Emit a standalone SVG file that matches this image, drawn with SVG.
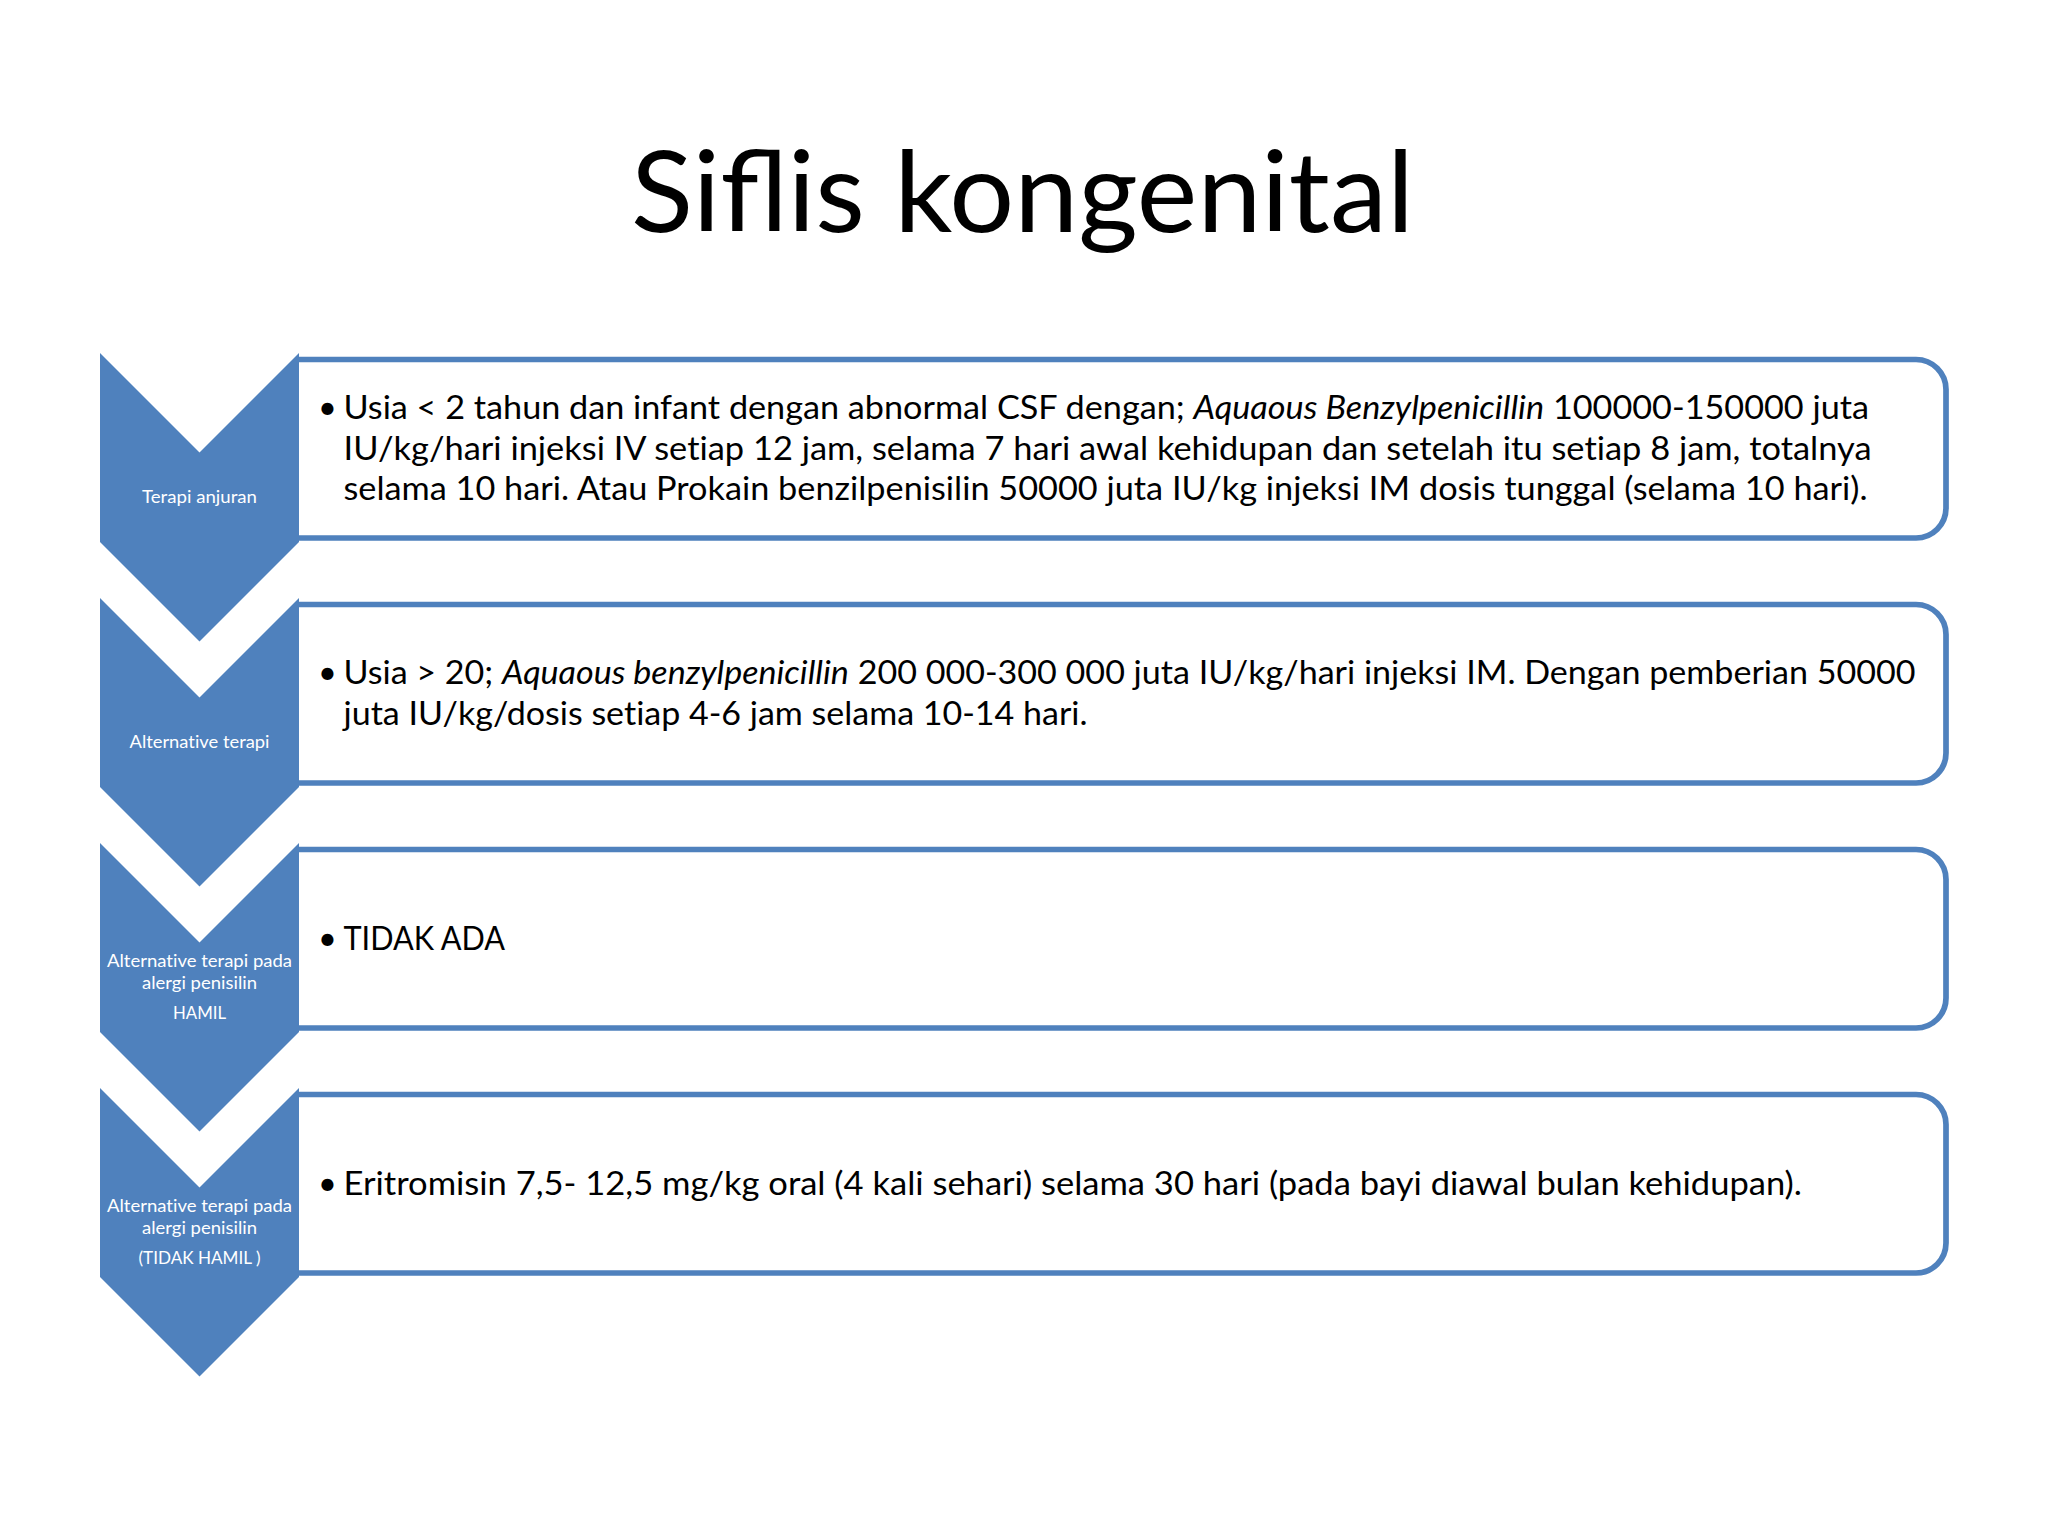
<svg xmlns="http://www.w3.org/2000/svg" width="2048" height="1536" viewBox="0 0 2048 1536">
<defs>
<style>
.chev{fill:#4F81BD;}
.box{fill:#FFFFFF;stroke:#4F81BD;stroke-width:5.7;}
.ct{font-family:Lato,"Open Sans","Liberation Sans",sans-serif;font-size:17.5px;fill:#FFFFFF;text-anchor:middle;font-variant-ligatures:none;}
.bt{font-family:Lato,"Open Sans","Liberation Sans",sans-serif;font-size:32.5px;fill:#000000;font-variant-ligatures:none;}
.it{font-style:italic;}
.title{font-family:Lato,"Open Sans","Liberation Sans",sans-serif;font-size:112px;fill:#000000;text-anchor:middle;}
</style>
</defs>
<rect x="0" y="0" width="2048" height="1536" fill="#FFFFFF"/>
<text class="title" x="1022.5" y="232" textLength="783" lengthAdjust="spacingAndGlyphs">Siflis kongenital</text>

<g id="row1">
<path class="box" d="M299,359.5 H1916 A30,30 0 0 1 1946,389.5 V508 A30,30 0 0 1 1916,538 H299"/>
<polygon class="chev" points="100,353 199.5,452.5 299,353 299,542 199.5,641.5 100,542"/>
<text class="ct" x="199.5" y="503" textLength="115" lengthAdjust="spacingAndGlyphs">Terapi anjuran</text>
<text class="bt" x="318" y="419">•</text>
<text class="bt" x="343.5" y="419" textLength="1525.5" lengthAdjust="spacingAndGlyphs">Usia &lt; 2 tahun dan infant dengan abnormal CSF dengan; <tspan class="it">Aquaous Benzylpenicillin</tspan> 100000-150000 juta</text>
<text class="bt" x="343.5" y="459.5" textLength="1528" lengthAdjust="spacingAndGlyphs">IU/kg/hari injeksi IV setiap 12 jam, selama 7 hari awal kehidupan dan setelah itu setiap 8 jam, totalnya</text>
<text class="bt" x="343.5" y="500" textLength="1524" lengthAdjust="spacingAndGlyphs">selama 10 hari. Atau Prokain benzilpenisilin 50000 juta IU/kg injeksi IM dosis tunggal (selama 10 hari).</text>
</g>

<g id="row2">
<path class="box" d="M299,604.5 H1916 A30,30 0 0 1 1946,634.5 V753 A30,30 0 0 1 1916,783 H299"/>
<polygon class="chev" points="100,598 199.5,697.5 299,598 299,787 199.5,886.5 100,787"/>
<text class="ct" x="199.5" y="748" textLength="140" lengthAdjust="spacingAndGlyphs">Alternative terapi</text>
<text class="bt" x="318" y="684">•</text>
<text class="bt" x="343.5" y="684" textLength="1572" lengthAdjust="spacingAndGlyphs">Usia &gt; 20; <tspan class="it">Aquaous benzylpenicillin</tspan> 200 000-300 000 juta IU/kg/hari injeksi IM. Dengan pemberian 50000</text>
<text class="bt" x="343.5" y="724.5" textLength="744" lengthAdjust="spacingAndGlyphs">juta IU/kg/dosis setiap 4-6 jam selama 10-14 hari.</text>
</g>

<g id="row3">
<path class="box" d="M299,849.5 H1916 A30,30 0 0 1 1946,879.5 V998 A30,30 0 0 1 1916,1028 H299"/>
<polygon class="chev" points="100,843 199.5,942.5 299,843 299,1032 199.5,1131.5 100,1032"/>
<text class="ct" x="199.5" y="967" textLength="185" lengthAdjust="spacingAndGlyphs">Alternative terapi pada</text>
<text class="ct" x="199.5" y="989" textLength="115" lengthAdjust="spacingAndGlyphs">alergi penisilin</text>
<text class="ct" x="199.5" y="1019" textLength="53" lengthAdjust="spacingAndGlyphs">HAMIL</text>
<text class="bt" x="318" y="950">•</text>
<text class="bt" x="343.5" y="950" textLength="161.5" lengthAdjust="spacingAndGlyphs">TIDAK ADA</text>
</g>

<g id="row4">
<path class="box" d="M299,1094.5 H1916 A30,30 0 0 1 1946,1124.5 V1243 A30,30 0 0 1 1916,1273 H299"/>
<polygon class="chev" points="100,1088 199.5,1187.5 299,1088 299,1277 199.5,1376.5 100,1277"/>
<text class="ct" x="199.5" y="1212" textLength="185" lengthAdjust="spacingAndGlyphs">Alternative terapi pada</text>
<text class="ct" x="199.5" y="1234" textLength="115" lengthAdjust="spacingAndGlyphs">alergi penisilin</text>
<text class="ct" x="199.5" y="1264" textLength="122" lengthAdjust="spacingAndGlyphs">(TIDAK HAMIL )</text>
<text class="bt" x="318" y="1195">•</text>
<text class="bt" x="343.5" y="1195" textLength="1458.5" lengthAdjust="spacingAndGlyphs">Eritromisin 7,5- 12,5 mg/kg oral (4 kali sehari) selama 30 hari (pada bayi diawal bulan kehidupan).</text>
</g>

<g id="connectors"></g>
</svg>
